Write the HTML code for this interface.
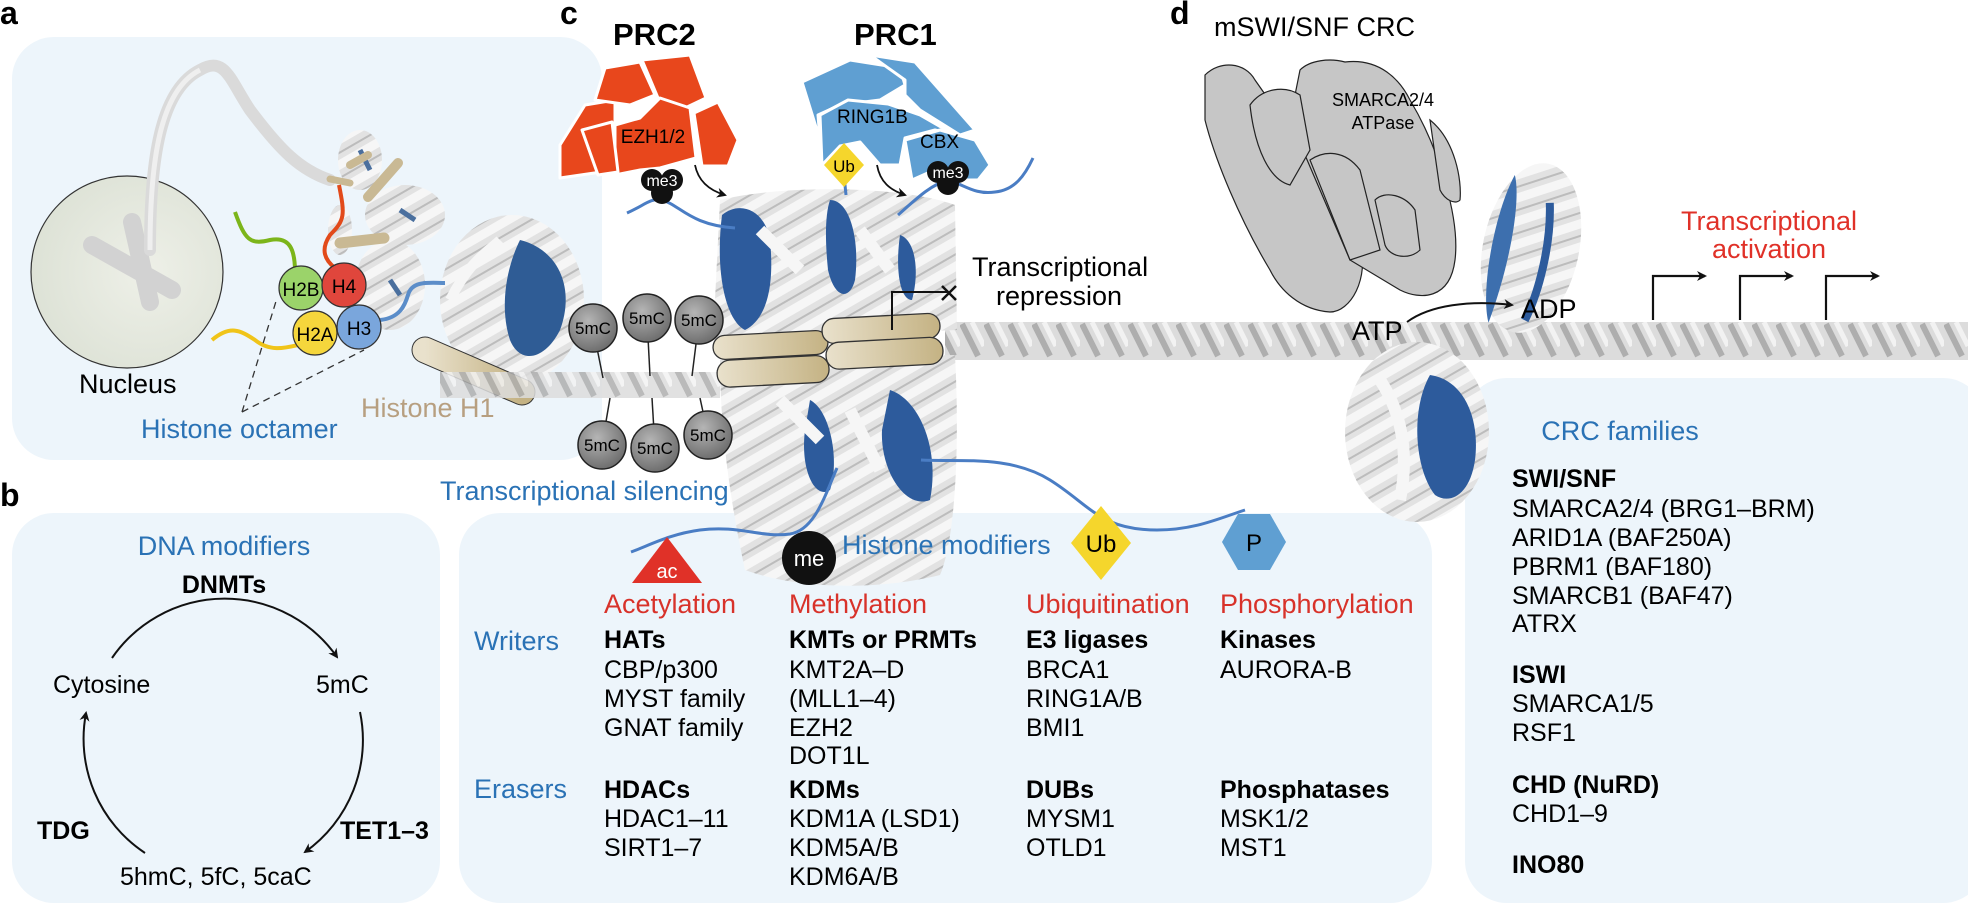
<!DOCTYPE html>
<html><head><meta charset="utf-8">
<style>
html,body{margin:0;padding:0;background:#fff;}
svg{display:block;}
text{font-family:"Liberation Sans",Arial,sans-serif;}
</style></head>
<body>
<svg width="1968" height="905" viewBox="0 0 1968 905" xmlns="http://www.w3.org/2000/svg">
<defs>
 <pattern id="dna" width="24" height="40" patternUnits="userSpaceOnUse">
  <rect width="24" height="40" fill="#dcdcdc"/>
  <path d="M2 4 L18 36" stroke="#9a9a9a" stroke-width="6" opacity="0.7"/>
  <path d="M12 2 L24 26" stroke="#f2f2f2" stroke-width="5"/>
 </pattern>
 <pattern id="nuc" width="22" height="22" patternUnits="userSpaceOnUse" patternTransform="rotate(-30)">
  <rect width="22" height="22" fill="#e2e2e2"/>
  <rect y="0" width="22" height="9" fill="#f6f6f6"/>
  <rect y="15" width="22" height="2" fill="#bcbcbc"/>
 </pattern>
 <linearGradient id="rod" x1="0" x2="1" y1="0" y2="0">
  <stop offset="0" stop-color="#e9e1cc"/><stop offset="1" stop-color="#c4b283"/>
 </linearGradient>
 <radialGradient id="mc" cx="0.4" cy="0.35" r="0.7">
  <stop offset="0" stop-color="#b5b5b5"/><stop offset="1" stop-color="#6a6a6a"/>
 </radialGradient>
 <radialGradient id="nucl" cx="0.6" cy="0.5" r="0.6">
  <stop offset="0" stop-color="#eef0e8"/><stop offset="1" stop-color="#dde2d6"/>
 </radialGradient>
 <marker id="ah" markerWidth="10" markerHeight="10" refX="8" refY="5" orient="auto" markerUnits="userSpaceOnUse">
  <path d="M0,0 L10,5 L0,10 L3,5 z" fill="#111"/>
 </marker>
</defs>

<rect x="12" y="37" width="590" height="423" rx="42" fill="#edf5fb"/>
<rect x="12" y="513" width="428" height="390" rx="42" fill="#edf5fb"/>
<rect x="459" y="513" width="973" height="390" rx="42" fill="#edf5fb"/>
<rect x="1465" y="378" width="520" height="525" rx="42" fill="#edf5fb"/>

<text x="0" y="24" font-size="32" font-weight="bold">a</text>
<text x="0" y="506" font-size="32" font-weight="bold">b</text>
<text x="560" y="24" font-size="32" font-weight="bold">c</text>
<text x="1170" y="24" font-size="32" font-weight="bold">d</text>

<!-- panel a -->
<circle cx="127" cy="272" r="96" fill="url(#nucl)" stroke="#333" stroke-width="1.2"/>
<path d="M92 245 L172 290 M132 222 L150 302" stroke="#d2d2d2" stroke-width="18" stroke-linecap="round" fill="none"/>
<path d="M150 250 C150 160 160 90 200 70 C225 55 230 80 250 110 C280 150 300 170 330 180" stroke="#dadada" stroke-width="12" fill="none" stroke-linecap="round"/>
<path d="M150 250 C150 160 160 90 200 70" stroke="#efefef" stroke-width="5" fill="none"/>
<ellipse cx="360" cy="160" rx="22" ry="30" fill="url(#nuc)"/>
<ellipse cx="405" cy="215" rx="40" ry="30" fill="url(#nuc)"/>
<ellipse cx="390" cy="285" rx="35" ry="45" fill="url(#nuc)"/>
<ellipse cx="340" cy="230" rx="12" ry="25" fill="url(#nuc)"/>
<path d="M360 150 l10 20 M400 210 l15 10 M390 280 l10 15" stroke="#4a6f9e" stroke-width="5"/>
<line x1="330" y1="179" x2="350" y2="183" stroke="#c9b994" stroke-width="7" stroke-linecap="round"/>
<line x1="350" y1="165" x2="368" y2="155" stroke="#c9b994" stroke-width="8" stroke-linecap="round"/>
<line x1="368" y1="197" x2="398" y2="163" stroke="#c9b994" stroke-width="10" stroke-linecap="round"/>
<line x1="340" y1="243" x2="384" y2="238" stroke="#c9b994" stroke-width="11" stroke-linecap="round"/>
<ellipse cx="512" cy="300" rx="72" ry="85" fill="url(#nuc)"/>
<path d="M520 240 C560 250 575 290 560 330 C545 360 520 365 510 340 C500 310 505 270 520 240 z" fill="#2f5c95"/>
<path d="M450 300 C470 260 490 250 500 240" stroke="#f6f6f6" stroke-width="10" fill="none"/>
<path d="M235 212 C245 240 250 245 270 240 C290 236 295 250 295 272" stroke="#7cb51a" stroke-width="4" fill="none"/>
<path d="M339 185 C345 215 345 220 330 235 C320 250 325 260 335 268" stroke="#e24a1a" stroke-width="4" fill="none"/>
<path d="M212 340 C230 325 240 330 255 340 C270 352 285 348 298 345" stroke="#f0c419" stroke-width="4" fill="none"/>
<path d="M380 320 C400 318 405 305 408 295 C412 280 430 283 445 283" stroke="#5b8dc9" stroke-width="4" fill="none"/>
<path d="M242 412 L277 298 M242 412 L364 350" stroke="#333" stroke-width="1.3" stroke-dasharray="7,5" fill="none"/>
<circle cx="301" cy="288" r="22" fill="#9bd36a" stroke="#333" stroke-width="1.2"/>
<circle cx="344" cy="285" r="22" fill="#e0463c" stroke="#333" stroke-width="1.2"/>
<circle cx="315" cy="333" r="22" fill="#f5d63c" stroke="#333" stroke-width="1.2"/>
<circle cx="359" cy="327" r="22" fill="#7aa6dc" stroke="#333" stroke-width="1.2"/>
<text x="301" y="296" font-size="19" text-anchor="middle">H2B</text>
<text x="344" y="293" font-size="19" text-anchor="middle">H4</text>
<text x="315" y="341" font-size="19" text-anchor="middle">H2A</text>
<text x="359" y="335" font-size="19" text-anchor="middle">H3</text>
<line x1="425" y1="350" x2="522" y2="392" stroke="#333" stroke-width="27" stroke-linecap="round"/>
<line x1="425" y1="350" x2="522" y2="392" stroke="url(#rod)" stroke-width="25" stroke-linecap="round"/>
<text x="79" y="393" font-size="27">Nucleus</text>
<text x="141" y="438" font-size="27" fill="#2a72b5">Histone octamer</text>
<text x="361" y="417" font-size="27" fill="#b79f80">Histone H1</text>

<rect x="440" y="372" width="280" height="26" fill="url(#dna)" opacity="0.85"/>
<rect x="945" y="322" width="1023" height="38" fill="url(#dna)"/>

<!-- panel c -->
<path d="M720 200 C780 185 900 185 955 205 L957 330 L713 340 z" fill="url(#nuc)"/>
<path d="M720 360 L955 355 C960 450 955 540 940 575 C880 590 800 590 745 570 C730 500 720 430 720 360 z" fill="url(#nuc)"/>
<path d="M722 215 C740 200 765 210 770 240 C775 290 765 320 745 330 C725 320 715 270 722 215 z" fill="#2d5b9c"/>
<path d="M830 200 C850 200 860 240 855 280 C850 300 835 300 828 270 C825 240 825 215 830 200 z" fill="#2d5b9c"/>
<path d="M900 235 C915 240 920 270 912 300 C900 300 895 270 900 235 z" fill="#2d5b9c"/>
<path d="M810 400 C830 410 840 460 830 490 C815 500 800 470 805 430 z" fill="#2d5b9c"/>
<path d="M890 390 C920 400 940 450 930 500 C905 510 880 470 882 430 z" fill="#2d5b9c"/>
<path d="M760 230 l40 40 M780 400 l40 40 M850 410 l30 60 M860 230 l30 40" stroke="#f6f6f6" stroke-width="12" fill="none"/>
<g stroke="#333" stroke-width="1.3">
<rect x="713" y="333" width="115" height="24" rx="12" fill="url(#rod)" transform="rotate(-3 770 345)"/>
<rect x="717" y="358" width="112" height="27" rx="13" fill="url(#rod)" transform="rotate(-3 770 370)"/>
<rect x="822" y="316" width="118" height="25" rx="12" fill="url(#rod)" transform="rotate(-3 880 328)"/>
<rect x="826" y="340" width="117" height="27" rx="13" fill="url(#rod)" transform="rotate(-3 880 353)"/>
</g>
<path d="M892 330 L892 292 L947 292" stroke="#111" stroke-width="2" fill="none"/>
<path d="M942 286 L956 300 M956 286 L942 300" stroke="#111" stroke-width="2.5"/>
<text x="972" y="276" font-size="27">Transcriptional</text>
<text x="996" y="305" font-size="27">repression</text>
<g stroke="#222" stroke-width="1.5">
<line x1="593" y1="328" x2="603" y2="378"/><line x1="647" y1="318" x2="650" y2="376"/><line x1="699" y1="320" x2="692" y2="376"/>
<line x1="602" y1="445" x2="610" y2="398"/><line x1="655" y1="448" x2="652" y2="398"/><line x1="708" y1="435" x2="700" y2="398"/>
<circle cx="593" cy="328" r="24" fill="url(#mc)"/><circle cx="647" cy="318" r="24" fill="url(#mc)"/><circle cx="699" cy="320" r="24" fill="url(#mc)"/>
<circle cx="602" cy="445" r="24" fill="url(#mc)"/><circle cx="655" cy="448" r="24" fill="url(#mc)"/><circle cx="708" cy="435" r="24" fill="url(#mc)"/>
</g>
<g font-size="17" text-anchor="middle">
<text x="593" y="334">5mC</text><text x="647" y="324">5mC</text><text x="699" y="326">5mC</text>
<text x="602" y="451">5mC</text><text x="655" y="454">5mC</text><text x="708" y="441">5mC</text>
</g>
<text x="440" y="500" font-size="27" fill="#2a72b5">Transcriptional silencing</text>

<text x="613" y="45" font-size="31" font-weight="bold">PRC2</text>
<g fill="#e8471c" stroke="#fff" stroke-width="3" stroke-linejoin="round">
<polygon points="560,145 585,105 615,100 615,170 560,178"/>
<polygon points="595,100 605,68 640,62 655,95 630,105"/>
<polygon points="642,60 690,55 706,98 685,108 658,98"/>
<polygon points="615,125 640,118 660,98 690,108 696,158 660,168 640,170 615,175"/>
<polygon points="694,113 718,102 738,140 728,166 702,166"/>
<polygon points="582,130 612,122 618,172 598,175"/>
</g>
<text x="653" y="143" font-size="19" text-anchor="middle">EZH1/2</text>
<path d="M627 213 C645 205 650 198 662 200 C680 205 690 225 735 228" stroke="#4a7dc4" stroke-width="3" fill="none"/>
<g fill="#111"><circle cx="652" cy="180" r="11"/><circle cx="672" cy="180" r="11"/><circle cx="662" cy="193" r="11"/></g>
<text x="662" y="186" font-size="16" fill="#fff" text-anchor="middle">me3</text>
<path d="M695 165 C698 180 708 190 725 195" stroke="#111" stroke-width="1.8" fill="none" marker-end="url(#ah)"/>

<text x="854" y="45" font-size="31" font-weight="bold">PRC1</text>
<g fill="#5f9fd2" stroke="#fff" stroke-width="3" stroke-linejoin="round">
<polygon points="802,82 850,60 900,68 905,85 880,100 840,105 818,115 820,140"/>
<polygon points="870,55 915,62 975,130 960,135 920,110 905,95 905,80"/>
<polygon points="820,115 848,100 888,104 920,115 955,135 935,130 905,138 900,165 880,165 860,142 840,146 822,165"/>
<polygon points="905,140 940,130 975,140 990,165 978,180 945,180 930,172 912,180"/>
</g>
<text x="837" y="123" font-size="19">RING1B</text>
<text x="920" y="148" font-size="19">CBX</text>
<path d="M898 215 C915 200 930 185 948 180 C965 185 975 195 995 192 C1015 190 1025 175 1033 158" stroke="#4a7dc4" stroke-width="3" fill="none"/>
<g fill="#111"><circle cx="938" cy="172" r="11"/><circle cx="958" cy="172" r="11"/><circle cx="948" cy="184" r="11"/></g>
<text x="948" y="178" font-size="16" fill="#fff" text-anchor="middle">me3</text>
<line x1="844" y1="175" x2="846" y2="195" stroke="#4a7dc4" stroke-width="3"/>
<polygon points="844,143 864,165 844,187 824,165" fill="#f5d62c"/>
<text x="844" y="172" font-size="17" text-anchor="middle">Ub</text>
<path d="M877 165 C880 182 890 190 905 195" stroke="#111" stroke-width="1.8" fill="none" marker-end="url(#ah)"/>

<path d="M837 468 C825 495 815 530 790 534 C760 538 740 525 700 530 C670 534 650 545 631 552" stroke="#4a7dc4" stroke-width="3" fill="none"/>
<path d="M921 460 C960 462 1010 455 1050 480 C1090 505 1100 530 1157 530 C1195 530 1220 518 1245 510" stroke="#4a7dc4" stroke-width="3" fill="none"/>

<!-- panel d -->
<text x="1214" y="36" font-size="27">mSWI/SNF CRC</text>
<g fill="#c6c6c6" stroke="#222" stroke-width="1.2">
<path d="M1205 75 C1220 60 1245 62 1255 80 L1290 130 C1330 160 1345 190 1360 240 C1370 280 1350 312 1330 312 C1300 310 1280 290 1270 270 C1240 220 1215 160 1205 120 z"/>
<path d="M1290 120 L1300 70 C1310 60 1330 58 1345 62 C1380 58 1400 80 1410 100 C1440 150 1460 220 1455 260 C1450 300 1420 300 1400 290 L1350 260 z"/>
<path d="M1250 105 C1262 88 1285 85 1300 95 L1310 150 L1290 185 C1270 180 1255 150 1250 105 z"/>
<path d="M1430 120 C1455 140 1462 180 1460 200 C1455 205 1445 200 1440 190 z"/>
<path d="M1310 160 C1325 150 1345 150 1360 170 L1380 250 L1350 260 z"/>
<path d="M1375 200 C1385 190 1405 195 1415 210 L1420 250 C1410 260 1390 258 1385 245 z"/>
</g>
<text x="1383" y="106" font-size="18" text-anchor="middle">SMARCA2/4</text>
<text x="1383" y="129" font-size="18" text-anchor="middle">ATPase</text>
<g transform="rotate(12 1531 248)">
<ellipse cx="1531" cy="248" rx="48" ry="86" fill="url(#nuc)"/>
<path d="M1500 180 C1510 200 1515 260 1505 330 C1490 300 1488 220 1500 180 z" fill="#3d6fae"/>
<path d="M1540 200 C1550 240 1548 290 1540 320" stroke="#2d5b9c" stroke-width="8" fill="none"/>
</g>
<ellipse cx="1417" cy="432" rx="72" ry="90" fill="url(#nuc)"/>
<path d="M1430 375 C1465 380 1480 420 1475 460 C1470 495 1450 505 1435 495 C1415 470 1410 410 1430 375 z" fill="#2d5b9c"/>
<path d="M1380 380 C1400 410 1410 450 1400 500" stroke="#f6f6f6" stroke-width="12" fill="none"/>
<text x="1352" y="340" font-size="27">ATP</text>
<text x="1521" y="318" font-size="27">ADP</text>
<path d="M1407 322 C1430 305 1470 300 1512 305" stroke="#111" stroke-width="2" fill="none" marker-end="url(#ah)"/>
<g stroke="#111" stroke-width="2.2" fill="none">
<path d="M1653 320 L1653 276 L1705 276" marker-end="url(#ah)"/>
<path d="M1740 320 L1740 276 L1792 276" marker-end="url(#ah)"/>
<path d="M1826 320 L1826 276 L1878 276" marker-end="url(#ah)"/>
</g>
<text x="1769" y="230" font-size="27" fill="#e03128" text-anchor="middle">Transcriptional</text>
<text x="1769" y="258" font-size="27" fill="#e03128" text-anchor="middle">activation</text>

<!-- panel b -->
<text x="224" y="555" font-size="27" fill="#2a72b5" text-anchor="middle">DNA modifiers</text>
<text x="224" y="593" font-size="25" font-weight="bold" text-anchor="middle">DNMTs</text>
<g stroke="#111" stroke-width="2" fill="none">
<path d="M112 658 A137 137 0 0 1 337 657" marker-end="url(#ah)"/>
<path d="M360 712 A137 137 0 0 1 305 852" marker-end="url(#ah)"/>
<path d="M145 853 A137 137 0 0 1 86 713" marker-end="url(#ah)"/>
</g>
<text x="53" y="693" font-size="25">Cytosine</text>
<text x="316" y="693" font-size="25">5mC</text>
<text x="37" y="839" font-size="25" font-weight="bold">TDG</text>
<text x="340" y="839" font-size="25" font-weight="bold">TET1–3</text>
<text x="120" y="885" font-size="25">5hmC, 5fC, 5caC</text>

<!-- histone modifiers -->
<polygon points="667,537 702,583 632,583" fill="#e03128"/>
<text x="667" y="578" font-size="20" fill="#fff" text-anchor="middle">ac</text>
<circle cx="809" cy="558" r="27" fill="#111"/>
<text x="809" y="566" font-size="22" fill="#fff" text-anchor="middle">me</text>
<text x="842" y="554" font-size="27" fill="#2a72b5">Histone modifiers</text>
<polygon points="1101,506 1131,543 1101,580 1071,543" fill="#f5d62c"/>
<text x="1101" y="552" font-size="24" text-anchor="middle">Ub</text>
<polygon points="1238,514 1270,514 1286,542 1270,570 1238,570 1222,542" fill="#5f9fd2"/>
<text x="1254" y="551" font-size="24" text-anchor="middle">P</text>

<g font-size="27" fill="#d8322a">
<text x="604" y="613">Acetylation</text>
<text x="789" y="613">Methylation</text>
<text x="1026" y="613">Ubiquitination</text>
<text x="1220" y="613">Phosphorylation</text>
</g>
<text x="474" y="650" font-size="27" fill="#2a72b5">Writers</text>
<text x="474" y="798" font-size="27" fill="#2a72b5">Erasers</text>
<g font-size="25">
<text x="604" y="648" font-weight="bold">HATs</text>
<text x="604" y="678">CBP/p300</text>
<text x="604" y="707">MYST family</text>
<text x="604" y="736">GNAT family</text>
<text x="604" y="798" font-weight="bold">HDACs</text>
<text x="604" y="827">HDAC1–11</text>
<text x="604" y="856">SIRT1–7</text>
<text x="789" y="648" font-weight="bold">KMTs or PRMTs</text>
<text x="789" y="678">KMT2A–D</text>
<text x="789" y="707">(MLL1–4)</text>
<text x="789" y="736">EZH2</text>
<text x="789" y="764">DOT1L</text>
<text x="789" y="798" font-weight="bold">KDMs</text>
<text x="789" y="827">KDM1A (LSD1)</text>
<text x="789" y="856">KDM5A/B</text>
<text x="789" y="885">KDM6A/B</text>
<text x="1026" y="648" font-weight="bold">E3 ligases</text>
<text x="1026" y="678">BRCA1</text>
<text x="1026" y="707">RING1A/B</text>
<text x="1026" y="736">BMI1</text>
<text x="1026" y="798" font-weight="bold">DUBs</text>
<text x="1026" y="827">MYSM1</text>
<text x="1026" y="856">OTLD1</text>
<text x="1220" y="648" font-weight="bold">Kinases</text>
<text x="1220" y="678">AURORA-B</text>
<text x="1220" y="798" font-weight="bold">Phosphatases</text>
<text x="1220" y="827">MSK1/2</text>
<text x="1220" y="856">MST1</text>
<text x="1512" y="487" font-weight="bold">SWI/SNF</text>
<text x="1512" y="517">SMARCA2/4 (BRG1–BRM)</text>
<text x="1512" y="546">ARID1A (BAF250A)</text>
<text x="1512" y="575">PBRM1 (BAF180)</text>
<text x="1512" y="604">SMARCB1 (BAF47)</text>
<text x="1512" y="632">ATRX</text>
<text x="1512" y="683" font-weight="bold">ISWI</text>
<text x="1512" y="712">SMARCA1/5</text>
<text x="1512" y="741">RSF1</text>
<text x="1512" y="793" font-weight="bold">CHD (NuRD)</text>
<text x="1512" y="822">CHD1–9</text>
<text x="1512" y="873" font-weight="bold">INO80</text>
</g>
<text x="1620" y="440" font-size="27" fill="#2a72b5" text-anchor="middle">CRC families</text>
</svg>
</body></html>
